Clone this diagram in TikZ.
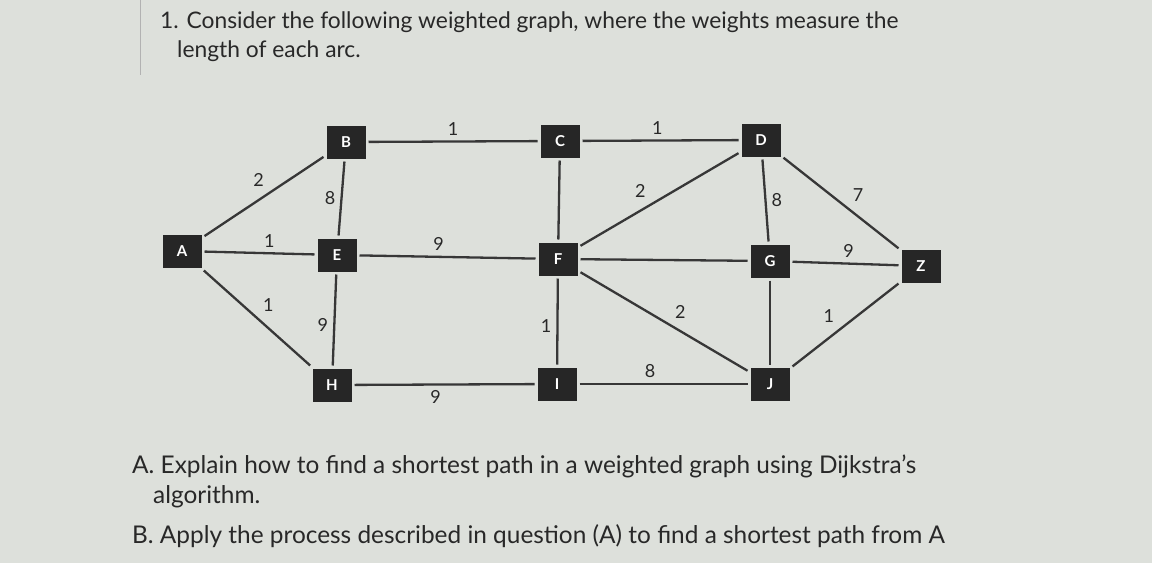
\documentclass[tikz,border=0pt]{standalone}
\usepackage{fontspec}
\setmainfont{Lato}
\definecolor{paper}{RGB}{221,224,219}
\definecolor{boxgray}{RGB}{38,38,38}
\definecolor{linegray}{RGB}{55,55,55}
\definecolor{textgray}{RGB}{40,40,40}
\tikzset{
  vertex/.style={rectangle, fill=boxgray, text=white, minimum width=39, minimum height=33,
    inner sep=0pt, outer sep=3pt, font=\bfseries\fontsize{15}{15}\selectfont},
  arc/.style={draw=linegray, line width=2.3pt},
  weight/.style={font=\fontsize{18}{18}\selectfont, text=textgray, inner sep=5pt},
  question/.style={anchor=base west, inner sep=0pt, text=textgray, font=\fontsize{24.4}{24.4}\selectfont}
}
\begin{document}
\begin{tikzpicture}[x=1pt, y=-1pt]
    \useasboundingbox (0,0) rectangle (1152,563);
    \fill[paper] (0,0) rectangle (1152,563);
    \draw[gray!60, line width=1pt] (140,0) -- (140,75);

    % Texte de la question
    \node[question, font=\fontsize{22.8}{22.8}\selectfont] (q1) at (160,28) {1. Consider the following weighted graph, where the weights measure the};
    \node[question, font=\fontsize{22.8}{22.8}\selectfont] (q2) at (177,57) {length of each arc.};

    % Sommets du graphe
    \node[vertex] (A) at (182,251) {A};
    \node[vertex] (B) at (346,142) {B};
    \node[vertex] (E) at (337,255) {E};
    \node[vertex] (H) at (332,385) {H};
    \node[vertex] (C) at (560,141) {C};
    \node[vertex] (F) at (558,259) {F};
    \node[vertex] (I) at (557,384) {I};
    \node[vertex] (D) at (761,140) {D};
    \node[vertex] (G) at (770,261) {G};
    \node[vertex] (J) at (770,384) {J};
    \node[vertex] (Z) at (921,266) {Z};

    % Arêtes de gauche
    \draw[arc] (A) -- (B) node[weight, pos=0.55, above left] {2};
    \draw[arc] (A) -- (E) node[weight, pos=0.59, above] {1};
    \draw[arc] (A) -- (H) node[weight, pos=0.5, above right] {1};
    \draw[arc] (B) -- (E) node[weight, pos=0.5, left] {8};
    \draw[arc] (E) -- (H) node[weight, pos=0.55, left] {9};
    \draw[arc] (B) -- (C) node[weight, pos=0.5, above] {1};
    \draw[arc] (E) -- (F) node[weight, pos=0.45, above] {9};
    \draw[arc] (H) -- (I) node[weight, pos=0.45, below] {9};

    % Arêtes du centre
    \draw[arc] (C) -- (F);
    \draw[arc] (F) -- (I) node[weight, pos=0.55, left] {1};
    \draw[arc] (C) -- (D) node[weight, pos=0.48, above] {1};
    \draw[arc] (F) -- (D) node[weight, pos=0.45, above left] {2};
    \draw[arc] (F) -- (G);
    \draw[arc] (F) -- (J) node[weight, pos=0.53, above right] {2};
    \draw[arc] (I) -- (J) node[weight, pos=0.42, above] {8};

    % Arêtes de droite
    \draw[arc] (D) -- (G) node[weight, pos=0.5, right] {8};
    \draw[arc] (G) -- (J);
    \draw[arc] (D) -- (Z) node[weight, pos=0.55, above right] {7};
    \draw[arc] (G) -- (Z) node[weight, pos=0.53, above] {9};
    \draw[arc] (J) -- (Z) node[weight, pos=0.45, above left] {1};

    % Consignes
    \node[question] (qa) at (132,473) {A. Explain how to find a shortest path in a weighted graph using Dijkstra’s};
    \node[question] (qa2) at (153,503) {algorithm.};
    \node[question] (qb) at (132,543) {B. Apply the process described in question (A) to find a shortest path from A};
\end{tikzpicture}
\end{document}
